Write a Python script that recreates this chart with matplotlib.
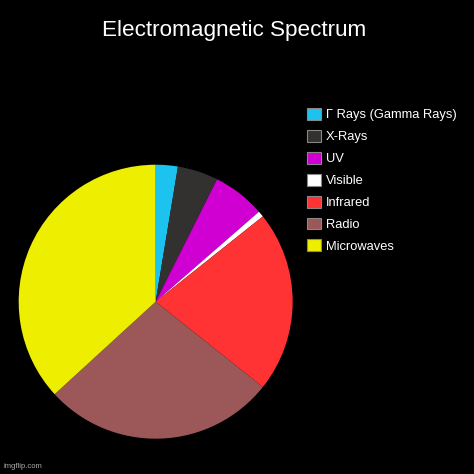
import matplotlib
matplotlib.use("Agg")
from matplotlib import pyplot as plt
from matplotlib.patches import Patch

plt.rcParams['font.family'] = ['Liberation Sans', 'DejaVu Sans']

labels = ["Γ Rays (Gamma Rays)", "X-Rays", "UV", "Visible", "Infrared", "Radio", "Microwaves"]
values = [2.6, 4.8, 6.2, 0.7, 21.4, 27.5, 36.8]
colors = ["#1cc3ef", "#333030", "#d000d2", "#ffffff", "#ff3333", "#9c5858", "#eeee00"]

fig = plt.figure(figsize=(4.74, 4.74), dpi=100, facecolor="black")
ax = fig.add_axes([0.0394, 0.0745, 0.578, 0.578])
ax.set_facecolor("black")
ax.pie(values, colors=colors, startangle=90, counterclock=False, radius=1,
       wedgeprops=dict(linewidth=0))
ax.set_xlim(-1, 1)
ax.set_ylim(-1, 1)
ax.set_aspect("equal")
ax.axis("off")

fig.text(0.494, 0.9247, "Electromagnetic Spectrum", color="white", fontsize=16.2,
         ha="center", va="baseline")

handles = [Patch(facecolor=c, edgecolor="#888888", linewidth=0.8) for c in colors]
leg = fig.legend(handles, labels, loc="upper left", bbox_to_anchor=(0.634, 0.786),
                 frameon=False, fontsize=9.3, labelcolor="white",
                 handlelength=1.08, handleheight=1.05, handletextpad=0.36,
                 labelspacing=0.66, borderpad=0)

fig.text(0.008, 0.008, "imgflip.com", color="#aaaaaa", fontsize=5.5, ha="left", va="bottom")

fig.savefig("out.png", dpi=100, facecolor="black")
